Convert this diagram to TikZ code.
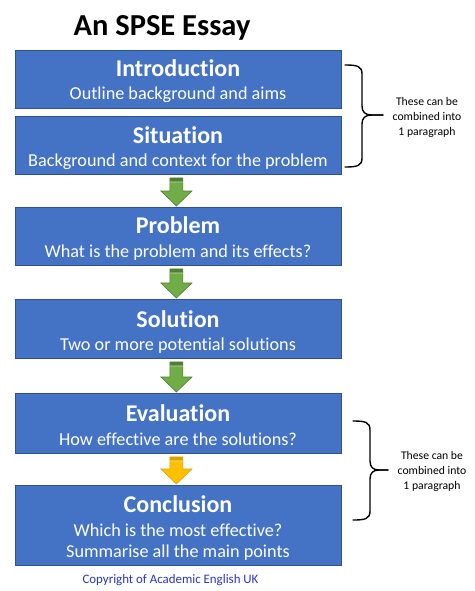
\documentclass[tikz,border=0pt]{standalone}
\usepackage{fontspec}
\setmainfont{Carlito}[Ligatures={NoCommon}]
\usetikzlibrary{calc}
\definecolor{boxblue}{HTML}{4472C4}
\definecolor{boxedge}{HTML}{2F528F}
\definecolor{argreen}{HTML}{70AD47}
\definecolor{argreenedge}{HTML}{507E32}
\definecolor{aryellow}{HTML}{FFC000}
\definecolor{aryellowedge}{HTML}{D9A300}
\definecolor{copyblue}{HTML}{2A35C8}
\newcommand{\blockarr}[4]{%
  \filldraw[fill=#3,draw=#4,line width=0.6pt,line join=miter]
    let \p1=(#1.south), \p2=(#2.north) in
    (\x1-8.5pt,\y1-3pt) -- (\x1+4.5pt,\y1-3pt) -- (\x1+4.5pt,\y2+16pt) -- (\x1+13.5pt,\y2+16pt)
    -- (\x1-2pt,\y2+1pt) -- (\x1-17.5pt,\y2+16pt) -- (\x1-8.5pt,\y2+16pt) -- cycle;
  \fill[#4] let \p1=(#1.south) in (\x1-8.5pt,\y1-3pt) rectangle (\x1+4.5pt,\y1-6pt);
  \fill[#4!60!white] let \p1=(#1.south) in (\x1-8.5pt,\y1-7pt) rectangle (\x1+4.5pt,\y1-8pt);
}
\tikzset{
  stage/.style={draw=boxedge, fill=boxblue, line width=0.8pt, rectangle, inner sep=0pt,
    minimum width=326pt, anchor=north west},
  stagetitle/.style={anchor=base, text=white, font=\fontsize{24}{28}\selectfont\bfseries, inner sep=0pt},
  stagesub/.style={anchor=base, text=white, font=\fontsize{18.2}{21}\selectfont, inner sep=0pt},
  bracetext/.style={align=center, font=\fontsize{11.7}{15}\selectfont, inner sep=0pt},
  bracepath/.style={draw=black, line width=1.4pt, line cap=round, line join=round},
}
\begin{document}
\begin{tikzpicture}[x=1pt,y=-1pt]
\useasboundingbox (0,0) rectangle (474,591);
\fill[white] (0,0) rectangle (474,591);
\node[anchor=base, inner sep=0pt, font=\fontsize{30.5}{33}\selectfont\bfseries] (title) at (162,36) {An SPSE Essay};

\node[stage, minimum height=58pt] (intro) at (15,50) {};
\node[stage, minimum height=58pt] (sit) at (15,116) {};
\node[stage, minimum height=58pt] (prob) at (15,207) {};
\node[stage, minimum height=59pt] (sol) at (15,299) {};
\node[stage, minimum height=60pt] (eval) at (15,393) {};
\node[stage, minimum height=80pt] (conc) at (15,485) {};

\node[stagetitle] (introt) at (178,77) {Introduction};
\node[stagesub] (intros) at (178,100) {Outline background and aims};
\node[stagetitle] (sitt) at (178,143) {Situation};
\node[stagesub] (sits) at (178,166) {Background and context for the problem};
\node[stagetitle] (probt) at (178,233) {Problem};
\node[stagesub] (probs) at (178,257) {What is the problem and its effects?};
\node[stagetitle] (solt) at (178,327) {Solution};
\node[stagesub] (sols) at (178,350) {Two or more potential solutions};
\node[stagetitle] (evalt) at (178,421) {Evaluation};
\node[stagesub] (evals) at (178,445) {How effective are the solutions?};
\node[stagetitle] (conct) at (178,512) {Conclusion};
\node[stagesub] (concs1) at (178,536) {Which is the most effective?};
\node[stagesub] (concs2) at (178,557) {Summarise all the main points};

\blockarr{sit}{prob}{argreen}{argreenedge}
\blockarr{prob}{sol}{argreen}{argreenedge}
\blockarr{sol}{eval}{argreen}{argreenedge}
\blockarr{eval}{conc}{aryellow}{aryellowedge}

% top brace
\coordinate (b1tip) at (383,115);
\draw[bracepath] (345,65) .. controls (357,65) and (362,66) .. (362,74) -- (362,106)
  .. controls (362,112) and (365,115) .. (372,115) -- (b1tip);
\draw[bracepath] (b1tip) -- (372,115) .. controls (365,115) and (362,118) .. (362,124)
  -- (362,158) .. controls (362,166) and (357,167) .. (345,167);
\node[bracetext] (b1text) at (427,117) {These can be\\combined into\\1 paragraph};

% bottom brace
\coordinate (b2tip) at (388,470);
\draw[bracepath] (353,421) .. controls (365,421) and (370,422) .. (370,430) -- (370,461)
  .. controls (370,467) and (373,470) .. (379,470) -- (b2tip);
\draw[bracepath] (b2tip) -- (379,470) .. controls (373,470) and (370,473) .. (370,479)
  -- (370,511) .. controls (370,519) and (365,520) .. (353,520);
\node[bracetext] (b2text) at (432,471) {These can be\\combined into\\1 paragraph};

\node[anchor=base, inner sep=0pt, text=copyblue, font=\fontsize{12.9}{15}\selectfont] (copy) at (170.5,583) {Copyright of Academic English UK};
\end{tikzpicture}
\end{document}
